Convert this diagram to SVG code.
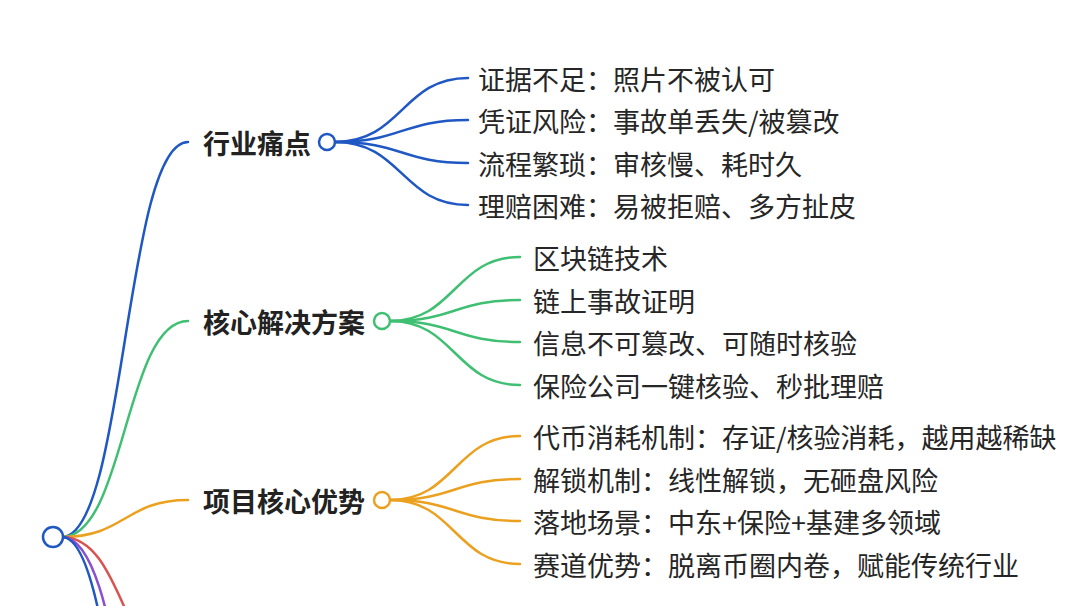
<svg xmlns="http://www.w3.org/2000/svg" width="1079" height="606" viewBox="0 0 1079 606">
<style>
.c{fill:none;stroke-width:2.5;stroke-linecap:round}
.b{stroke:#1f57c3}.g{stroke:#3fbf72}.o{stroke:#eba11f}.r{stroke:#d9534f}.p{stroke:#8a4fd0}
.lbl{font-family:"Noto Sans CJK SC","Noto Sans",sans-serif;font-size:27px;font-weight:bold;fill:#222;dominant-baseline:central}
.txt{font-family:"Noto Sans CJK SC","Noto Sans",sans-serif;font-size:27px;fill:#262626;dominant-baseline:central}
.dot{fill:#fff;stroke-width:2.5}
</style>
<rect width="1079" height="606" fill="#fff"/>
<g id="connectors">
<path class="c b" d="M62,537 C125,537 125,142 188,142"/>
<path class="c g" d="M62,537 C125,537 125,321 188,321"/>
<path class="c o" d="M62,537 C125,537 125,500 188,500"/>
<path class="c r" d="M62,537 C125,537 125,680 188,680"/>
<path class="c p" d="M62,537 C125,537 125,860 188,860"/>
<path class="c b" d="M62,537 C125,537 125,1040 188,1040"/>
<path class="c b" d="M335,142 C402,142 402,78 468,78"/>
<path class="c b" d="M335,142 C402,142 402,120 468,120"/>
<path class="c b" d="M335,142 C402,142 402,163 468,163"/>
<path class="c b" d="M335,142 C402,142 402,205 468,205"/>
<path class="c g" d="M390,321 C455,321 455,257 520,257"/>
<path class="c g" d="M390,321 C455,321 455,300 520,300"/>
<path class="c g" d="M390,321 C455,321 455,342 520,342"/>
<path class="c g" d="M390,321 C455,321 455,385 520,385"/>
<path class="c o" d="M390,500 C455,500 455,436 520,436"/>
<path class="c o" d="M390,500 C455,500 455,479 520,479"/>
<path class="c o" d="M390,500 C455,500 455,521 520,521"/>
<path class="c o" d="M390,500 C455,500 455,564 520,564"/>
</g>
<g id="root"><circle class="dot b" cx="53" cy="537" r="10"/></g>
<g id="n1">
<text class="lbl" x="203" y="142">行业痛点</text>
<circle class="dot b" cx="327" cy="142" r="8"/>
</g>
<g id="n1c1"><text class="txt" x="478" y="78">证据不足：照片不被认可</text></g>
<g id="n1c2"><text class="txt" x="478" y="120">凭证风险：事故单丢失/被篡改</text></g>
<g id="n1c3"><text class="txt" x="478" y="163">流程繁琐：审核慢、耗时久</text></g>
<g id="n1c4"><text class="txt" x="478" y="205">理赔困难：易被拒赔、多方扯皮</text></g>
<g id="n2">
<text class="lbl" x="203" y="321">核心解决方案</text>
<circle class="dot g" cx="382" cy="321" r="8"/>
</g>
<g id="n2c1"><text class="txt" x="533" y="257">区块链技术</text></g>
<g id="n2c2"><text class="txt" x="533" y="300">链上事故证明</text></g>
<g id="n2c3"><text class="txt" x="533" y="342">信息不可篡改、可随时核验</text></g>
<g id="n2c4"><text class="txt" x="533" y="385">保险公司一键核验、秒批理赔</text></g>
<g id="n3">
<text class="lbl" x="203" y="500">项目核心优势</text>
<circle class="dot o" cx="382" cy="500" r="8"/>
</g>
<g id="n3c1"><text class="txt" x="533" y="436">代币消耗机制：存证/核验消耗，越用越稀缺</text></g>
<g id="n3c2"><text class="txt" x="533" y="479">解锁机制：线性解锁，无砸盘风险</text></g>
<g id="n3c3"><text class="txt" x="533" y="521">落地场景：中东+保险+基建多领域</text></g>
<g id="n3c4"><text class="txt" x="533" y="564">赛道优势：脱离币圈内卷，赋能传统行业</text></g>
</svg>
